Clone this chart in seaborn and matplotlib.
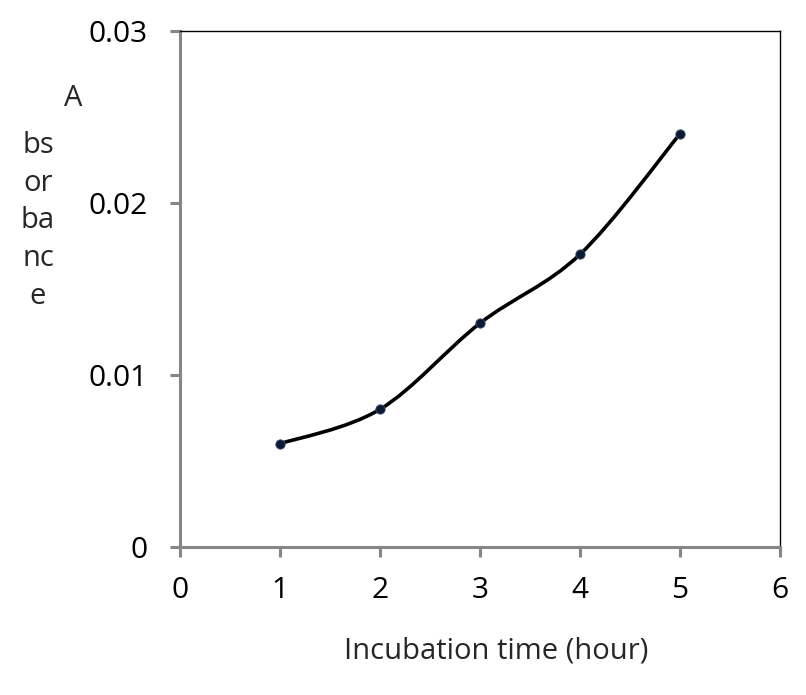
import numpy as np
import pandas as pd
import matplotlib
matplotlib.use("Agg")
import matplotlib.pyplot as plt
from matplotlib.path import Path
from matplotlib.patches import PathPatch
import seaborn as sns

# data
hours = [1, 2, 3, 4, 5]
absorbance = [0.006, 0.008, 0.013, 0.017, 0.024]
x_ticks = [0, 1, 2, 3, 4, 5, 6]
y_ticks = [0, 0.01, 0.02, 0.03]
y_tick_labels = ["0", "0.01", "0.02", "0.03"]
ylabel_lines = ["bs", "or", "ba", "nc", "e"]

sns.set_theme(style="white")
plt.rcParams["font.family"] = ["Open Sans", "DejaVu Sans"]

df = pd.DataFrame({"hour": hours, "abs": absorbance})

fig = plt.figure(figsize=(8.06, 6.95), dpi=100)
ax = fig.add_axes([0.2233, 0.2129, 0.7444, 0.7431])

# smoothed line like excel: catmull-rom segments drawn as bezier curves
px = np.array(hours, dtype=float)
py = np.array(absorbance, dtype=float)
verts = [(px[0], py[0])]
codes = [Path.MOVETO]
n = len(px)
for i in range(n - 1):
    p0 = i - 1 if i > 0 else i
    p3 = i + 2 if i + 2 < n else i + 1
    c1 = (px[i] + (px[i + 1] - px[p0]) / 6, py[i] + (py[i + 1] - py[p0]) / 6)
    c2 = (px[i + 1] - (px[p3] - px[i]) / 6, py[i + 1] - (py[p3] - py[i]) / 6)
    verts += [c1, c2, (px[i + 1], py[i + 1])]
    codes += [Path.CURVE4] * 3
ax.add_patch(PathPatch(Path(verts, codes), facecolor="none", edgecolor="black",
                       lw=2.6, zorder=2))

sns.scatterplot(data=df, x="hour", y="abs", ax=ax, s=45, color="#0d1a33",
                edgecolor="#3a4a6a", linewidth=0.6, zorder=3)

ax.set_xlim(0, 6)
ax.set_ylim(0, 0.03)
ax.set_xticks(x_ticks)
ax.set_yticks(y_ticks)
ax.set_yticklabels(y_tick_labels)
ax.set_xlabel("")
ax.set_ylabel("")

for side in ["left", "bottom"]:
    ax.spines[side].set_color("#868686")
    ax.spines[side].set_linewidth(2.2)
for side in ["top", "right"]:
    ax.spines[side].set_color("black")
    ax.spines[side].set_linewidth(1.0)

ax.tick_params(axis="both", which="major", direction="out", length=7,
               width=2.2, color="#868686", labelsize=21.5, labelcolor="black")
ax.tick_params(axis="x", pad=14)
ax.tick_params(axis="y", pad=16)
ax.xaxis.set_ticks_position("bottom")
ax.yaxis.set_ticks_position("left")

fig.text(496 / 806, 1 - 651 / 695, "Incubation time (hour)", ha="center",
         va="center", fontsize=21)
fig.text(73 / 806, 1 - 99 / 695, "A", ha="center", va="center", fontsize=21)
fig.text(38 / 806, 1 - 221 / 695, "\n".join(ylabel_lines), ha="center",
         va="center", fontsize=21, linespacing=1.4)

fig.savefig("out.png", dpi=100)
